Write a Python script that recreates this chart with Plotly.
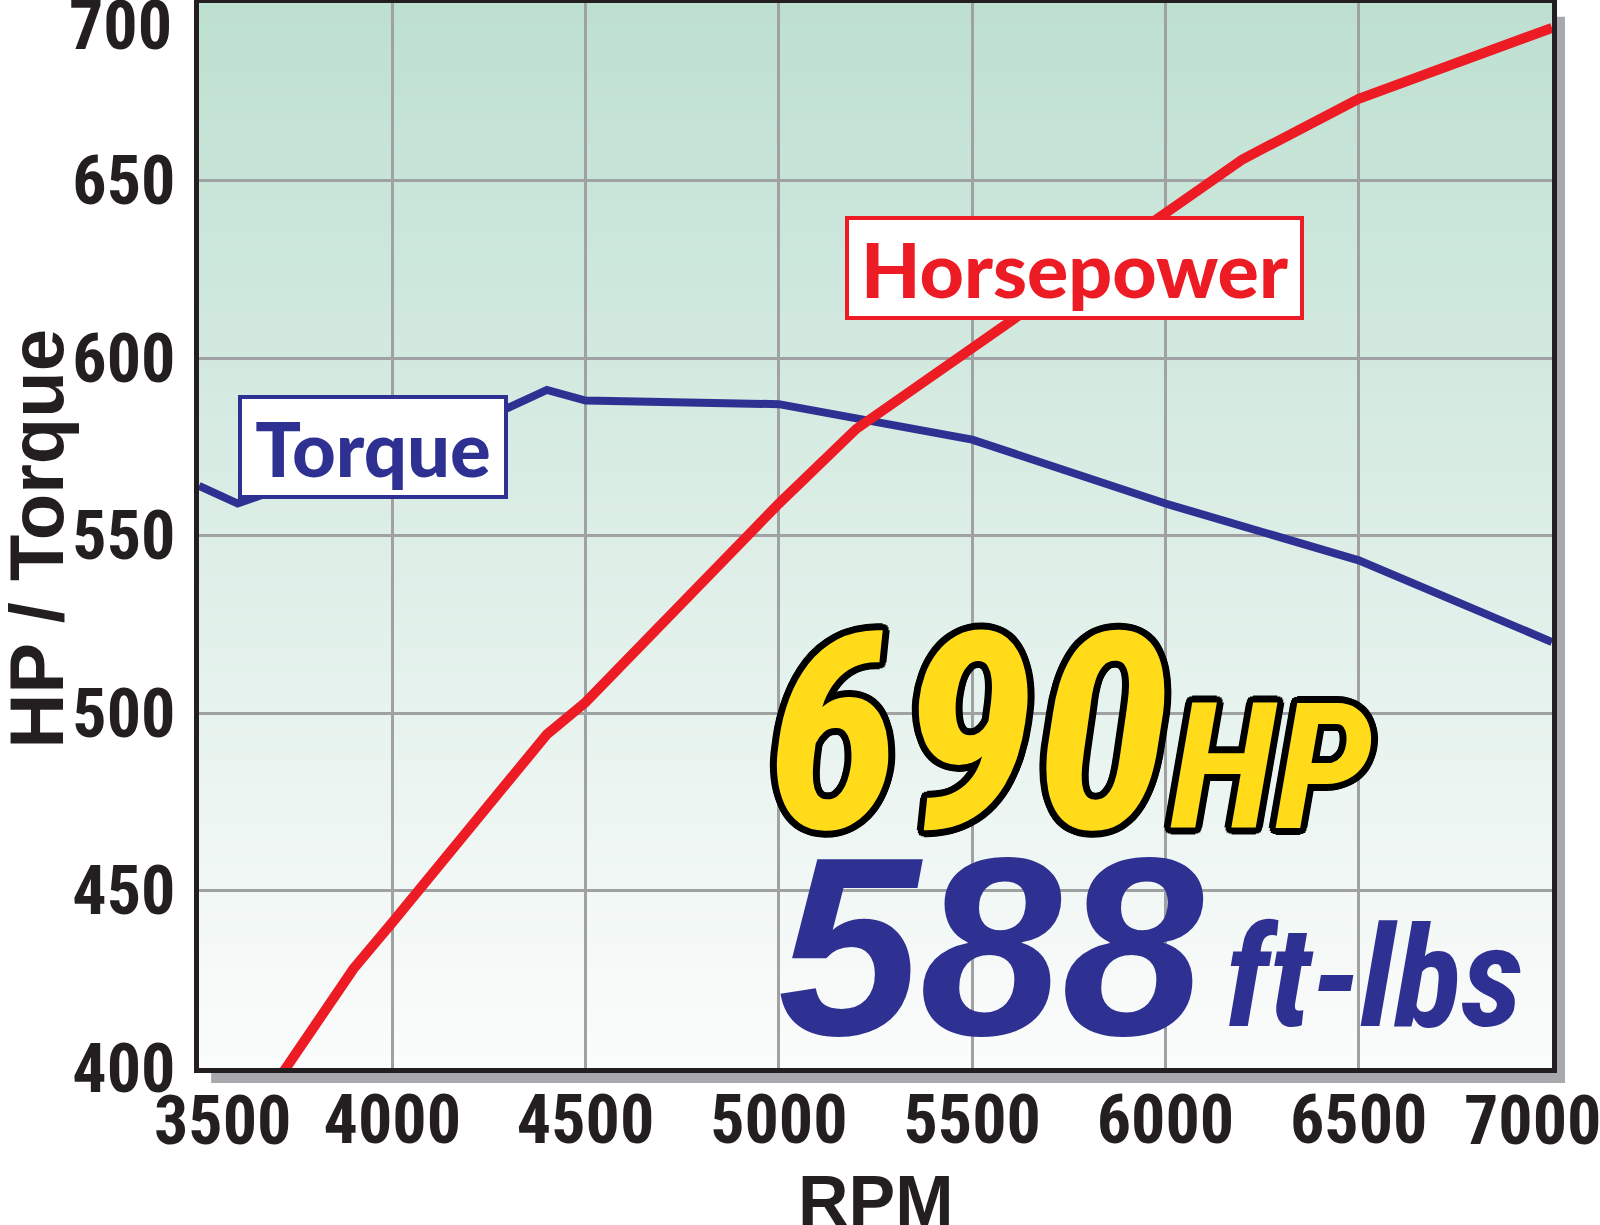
import plotly.graph_objects as go

# dyno sheet values
hp_rpm = [3700, 3900, 4000, 4400, 4500, 5000, 5200, 5500, 6000, 6200, 6500, 6700, 7000]
hp = [396, 428, 441, 494, 503, 559, 580, 603, 641, 656, 673, 681, 693]

tq_rpm = [3500, 3600, 4300, 4400, 4500, 5000, 5500, 6000, 6500, 7000]
tq = [564, 559, 586, 591, 588, 587, 577, 559, 543, 520]

x_ticks = [3500, 4000, 4500, 5000, 5500, 6000, 6500, 7000]
y_ticks = [400, 450, 500, 550, 600, 650, 700]

RED = '#ed1c24'
NAVY = '#2e3192'
INK = '#231f20'
NARROW = 'Noto Sans ExtraCondensed, Noto Sans Condensed, Roboto Condensed, Liberation Sans'
WIDE = 'Liberation Sans, Arial, sans-serif'
GEO = 'Lato, Noto Sans, sans-serif'
TICKFONT = dict(family=NARROW, size=68, color=INK, weight='bold')

fig = go.Figure()

fig.add_trace(go.Scatter(x=tq_rpm, y=tq, mode='lines', name='Torque',
                         line=dict(color=NAVY, width=8)))
fig.add_trace(go.Scatter(x=hp_rpm, y=hp, mode='lines', name='Horsepower',
                         line=dict(color=RED, width=10)))

# drop shadow behind the frame, then the green-to-white background
shapes = [dict(type='rect', xref='paper', yref='paper', layer='below',
               x0=0.009, x1=1.0096, y0=-0.0141, y1=0.987,
               fillcolor='#a7a9ac', line_width=0)]
top = (190, 224, 209)
bot = (251, 252, 252)
n = 90
for i in range(n):
    t = i / (n - 1)
    c = tuple(round(top[k] + (bot[k] - top[k]) * t) for k in range(3))
    shapes.append(dict(type='rect', xref='paper', yref='paper', layer='below',
                       x0=0, x1=1, y0=1 - (i + 1) / n, y1=1 - i / n + 0.001,
                       fillcolor='rgb(%d,%d,%d)' % c, line_width=0))

outline = ', '.join('%dpx %dpx 0 #000' % (dx, dy) for dx, dy in
                    [(7, 0), (-7, 0), (0, 7), (0, -7), (5, 5), (-5, 5), (5, -5), (-5, -5),
                     (3, 6), (-3, 6), (3, -6), (-3, -6), (6, 3), (-6, 3), (6, -3), (-6, -3)])

annotations = [
    dict(text='Horsepower', x=5766, y=625.4, xref='x', yref='y', showarrow=False,
         font=dict(family=GEO, size=77, color=RED, weight=900),
         bgcolor='white', bordercolor=RED, borderwidth=4, borderpad=0,
         width=451, height=96),
    dict(text='Torque', x=3950, y=574.9, xref='x', yref='y', showarrow=False,
         font=dict(family=GEO, size=76, color=NAVY, weight=900),
         bgcolor='white', bordercolor=NAVY, borderwidth=4, borderpad=0,
         width=262, height=96),
    dict(text="690<span style='font-size:176px'>HP</span>", x=5750, y=494,
         xref='x', yref='y', showarrow=False,
         font=dict(family=NARROW, size=275, color='#ffdb1a', weight='bold',
                   style='italic', shadow=outline)),
    dict(text='588', x=5550, y=434.2, xref='x', yref='y', showarrow=False,
         font=dict(family=WIDE, size=255, color=NAVY, weight='bold', style='italic')),
    dict(text='ft-lbs', x=6540, y=425.4, xref='x', yref='y', showarrow=False,
         font=dict(family=NARROW, size=140, color=NAVY, weight='bold', style='italic')),
    dict(text='RPM', x=0.5, y=0, xref='paper', yref='paper', yanchor='top',
         yshift=-92, showarrow=False,
         font=dict(family=WIDE, size=70, color=INK, weight='bold')),
    dict(text='HP / Torque', x=0, y=0.5, xref='paper', yref='paper', xanchor='center',
         xshift=-163, yshift=-4, textangle=-90, showarrow=False,
         font=dict(family=WIDE, size=76, color=INK, weight='bold')),
    # end labels are nudged inwards in the original so they stay on the page
    dict(text=str(y_ticks[-1]), x=0, y=1, xref='paper', yref='paper', xanchor='right',
         yanchor='top', xshift=-25, yshift=19, showarrow=False, font=TICKFONT),
    dict(text=str(x_ticks[0]), x=x_ticks[0], y=0, xref='x', yref='paper', yanchor='top',
         xshift=23, yshift=-11, showarrow=False, font=TICKFONT),
    dict(text=str(x_ticks[-1]), x=x_ticks[-1], y=0, xref='x', yref='paper', yanchor='top',
         xshift=-20, yshift=-11, showarrow=False, font=TICKFONT),
]

fig.update_layout(
    width=1600, height=1225,
    margin=dict(l=199, r=48, t=3, b=157),
    paper_bgcolor='white', plot_bgcolor='white',
    showlegend=False,
    shapes=shapes,
    annotations=annotations,
)

fig.update_xaxes(range=[3500, 7000], tickvals=x_ticks[1:-1], ticks='', ticklabelstandoff=-12,
                 automargin=False,
                 showgrid=True, gridcolor='#9fa1a3', gridwidth=2.5,
                 showline=True, mirror=True, linecolor=INK, linewidth=5,
                 tickfont=TICKFONT, zeroline=False)
fig.update_yaxes(range=[400, 700], tickvals=y_ticks[:-1], ticks='', ticklabelstandoff=5,
                 automargin=False,
                 showgrid=True, gridcolor='#9fa1a3', gridwidth=2.5,
                 showline=True, mirror=True, linecolor=INK, linewidth=5,
                 tickfont=TICKFONT, zeroline=False)

fig.write_html('out.html', config={'displayModeBar': False},
               post_script="document.body.style.margin='0';")
